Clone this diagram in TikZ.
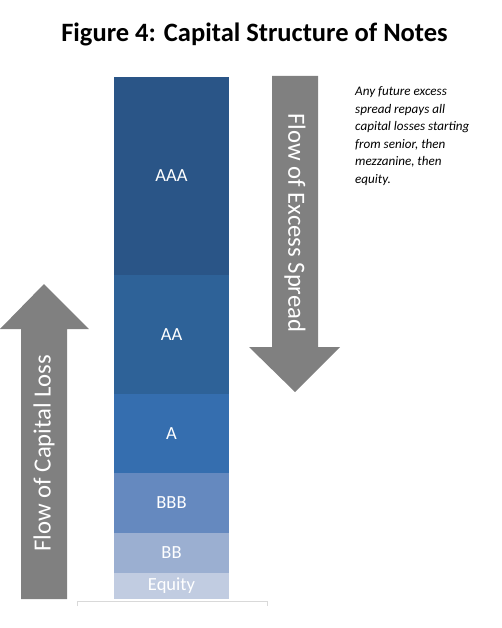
\documentclass[tikz,border=0pt]{standalone}
\usepackage{fontspec}
\setmainfont{Carlito}
\begin{document}
\begin{tikzpicture}[x=1pt,y=-1pt,
  tranche/.style={draw=none, inner sep=0pt, minimum width=115pt, text=white, font=\fontsize{18.5}{18.5}\selectfont},
  flowarrow/.style={fill=black!50, draw=none},
  flowtext/.style={text=white, font=\fontsize{24.7}{24.7}\selectfont, inner sep=0pt}]
\useasboundingbox (0,0) rectangle (502,628);
\definecolor{cAAA}{HTML}{2A5587}
\definecolor{cAA}{HTML}{2E6298}
\definecolor{cA}{HTML}{356EAF}
\definecolor{cBBB}{HTML}{6589BF}
\definecolor{cBB}{HTML}{9BAFD1}
\definecolor{cEq}{HTML}{C1CCE1}
% title
\node[font=\fontsize{26.5}{26.5}\selectfont\bfseries] (title) at (254.5,34) {Figure 4: Capital Structure of Notes};
% tranches
\node[tranche, fill=cAAA, minimum height=198pt] (aaa) at (171.5,176) {AAA};
\node[tranche, fill=cAA, minimum height=119pt] (aa) at (171.5,334.5) {AA};
\node[tranche, fill=cA, minimum height=79pt] (a) at (171.5,433.5) {A};
\node[tranche, fill=cBBB, minimum height=60pt] (bbb) at (171.5,503) {BBB};
\node[tranche, fill=cBB, minimum height=40pt] (bb) at (171.5,553) {BB};
\node[tranche, fill=cEq, minimum height=26pt] (eq) at (171.5,586) {Equity};
% bracket
\draw[black!15, line width=1pt] (77,606) -- (77,601) -- (267,601) -- (267,606);
% left arrow (up)
\fill[flowarrow] (21,599) -- (21,329) -- (0,329) -- (44,284) -- (89,329) -- (67,329) -- (67,599) -- cycle;
\node[flowtext, rotate=90] (loss) at (44,453) {Flow of Capital Loss};
% right arrow (down)
\fill[flowarrow] (272,76) -- (318,76) -- (318,347) -- (340,347) -- (295,392) -- (249,347) -- (272,347) -- cycle;
\node[flowtext, rotate=-90] (spread) at (295,223) {Flow of Excess Spread};
% note
\node[anchor=north west, align=left, inner sep=0pt, font=\fontsize{13.1}{17.5}\selectfont\itshape] (note) at (355,86.5)
  {Any future excess\\spread repays all\\capital losses starting\\from senior, then\\mezzanine, then\\equity.};
\end{tikzpicture}
\end{document}
